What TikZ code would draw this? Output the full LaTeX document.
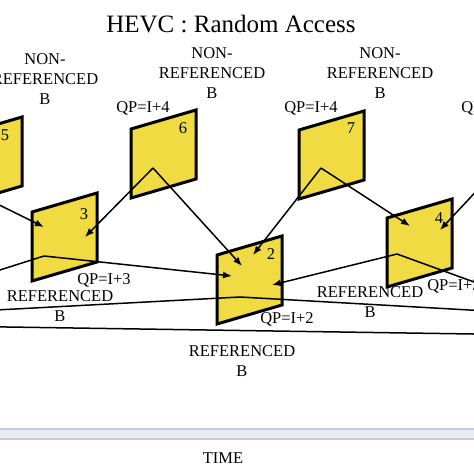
\documentclass[tikz,border=0pt]{standalone}
\usepackage{fontspec}
\setmainfont{Liberation Serif}
\usetikzlibrary{arrows.meta}
\definecolor{framecolor}{RGB}{241, 219, 66}
\definecolor{bandcolor}{RGB}{233, 235, 246}
\definecolor{bandedge}{RGB}{200, 202, 214}
\tikzset{
    frame/.style={draw=black, line width=3pt, fill=framecolor, line join=miter},
    pred/.style={line width=1.5pt},
    pred arrow/.style={pred, -{Latex[length=9pt,width=7pt]}},
    big label/.style={font=\fontsize{16.5}{20}\selectfont, align=center, inner sep=0pt},
    frame num/.style={font=\fontsize{16.5}{20}\selectfont, inner sep=0pt}
}
\begin{document}
\begin{tikzpicture}[x=1pt,y=-1pt]
\useasboundingbox (0,0) rectangle (474,474);
\clip (0,0) rectangle (474,474);
% frames
\draw[frame] (-43,136) -- ++(65,-19) -- ++(0,69) -- ++(-65,19) -- cycle;
\draw[frame] (131,129) -- ++(65,-19) -- ++(0,69) -- ++(-65,19) -- cycle;
\draw[frame] (299,130) -- ++(65,-19) -- ++(0,69) -- ++(-65,19) -- cycle;
\draw[frame] (32,212) -- ++(65,-19) -- ++(0,69) -- ++(-65,19) -- cycle;
\draw[frame] (217,255) -- ++(65,-19) -- ++(0,69) -- ++(-65,19) -- cycle;
\draw[frame] (387,218) -- ++(65,-19) -- ++(0,69) -- ++(-65,19) -- cycle;
\node[frame num] (n5) at (5,135) {5};
\node[frame num] (n6) at (183,128) {6};
\node[frame num] (n7) at (351,128) {7};
\node[frame num] (n3) at (84,214) {3};
\node[frame num] (n2) at (271,254) {2};
\node[frame num] (n4) at (439,218) {4};
% reference points
\coordinate (c0) at (-60,326);
\coordinate (c1) at (540,335);
\coordinate (c5) at (-21,195);
\coordinate (c6) at (153,168);
\coordinate (c7) at (321,168);
\coordinate (c8) at (498,168);
\coordinate (c3) at (44,256);
\coordinate (c2) at (240,297);
\coordinate (c4) at (397,254);
\coordinate (t3a) at (44,227);
\coordinate (t3b) at (85,237);
\coordinate (t2a) at (242,266);
\coordinate (t2b) at (253,255);
\coordinate (t2c) at (232,276);
\coordinate (t2d) at (272,285);
\coordinate (t4a) at (410,226);
\coordinate (t4b) at (440,230);
\coordinate (t0a) at (-60,289);
\coordinate (t0b) at (-60,313);
\coordinate (t1a) at (540,306);
\coordinate (t1b) at (540,314);
% predictions
\draw[pred arrow] (c5) -- (t3a);
\draw[pred arrow] (c6) -- (t3b);
\draw[pred arrow] (c6) -- (t2a);
\draw[pred arrow] (c7) -- (t2b);
\draw[pred arrow] (c7) -- (t4a);
\draw[pred arrow] (c8) -- (t4b);
\draw[pred arrow] (c3) -- (t0a);
\draw[pred arrow] (c3) -- (t2c);
\draw[pred arrow] (c4) -- (t2d);
\draw[pred arrow] (c4) -- (t1a);
\draw[pred arrow] (c2) -- (t0b);
\draw[pred arrow] (c2) -- (t1b);
\draw[pred] (c0) -- (c1);
% labels
\node[font=\fontsize{25}{30}\selectfont, inner sep=0pt] (title) at (231,24) {HEVC : Random Access};
\node[big label] (nr5) at (45,79) {NON-\\REFERENCED\\B};
\node[big label] (nr6) at (212,73) {NON-\\REFERENCED\\B};
\node[big label] (nr7) at (380,73) {NON-\\REFERENCED\\B};
\node[big label] (qp6) at (143,108) {QP=I+4};
\node[big label] (qp7) at (311,108) {QP=I+4};
\node[big label] (qp8) at (488,108) {QP=I+4};
\node[big label] (qp3) at (104,280) {QP=I+3};
\node[big label] (ref3) at (60,306) {REFERENCED\\B};
\node[big label] (qp2) at (287,319) {QP=I+2};
\node[big label] (ref4) at (370,302) {REFERENCED\\B};
\node[big label] (qp4) at (454,286) {QP=I+3};
\node[big label] (ref2) at (242,361) {REFERENCED\\B};
% time axis
\fill[bandcolor] (0,429) rectangle (474,439);
\draw[bandedge, line width=1.2pt] (0,429) -- (474,429) (0,439) -- (474,439);
\node[big label] (time) at (223,458) {TIME};
\end{tikzpicture}
\end{document}
